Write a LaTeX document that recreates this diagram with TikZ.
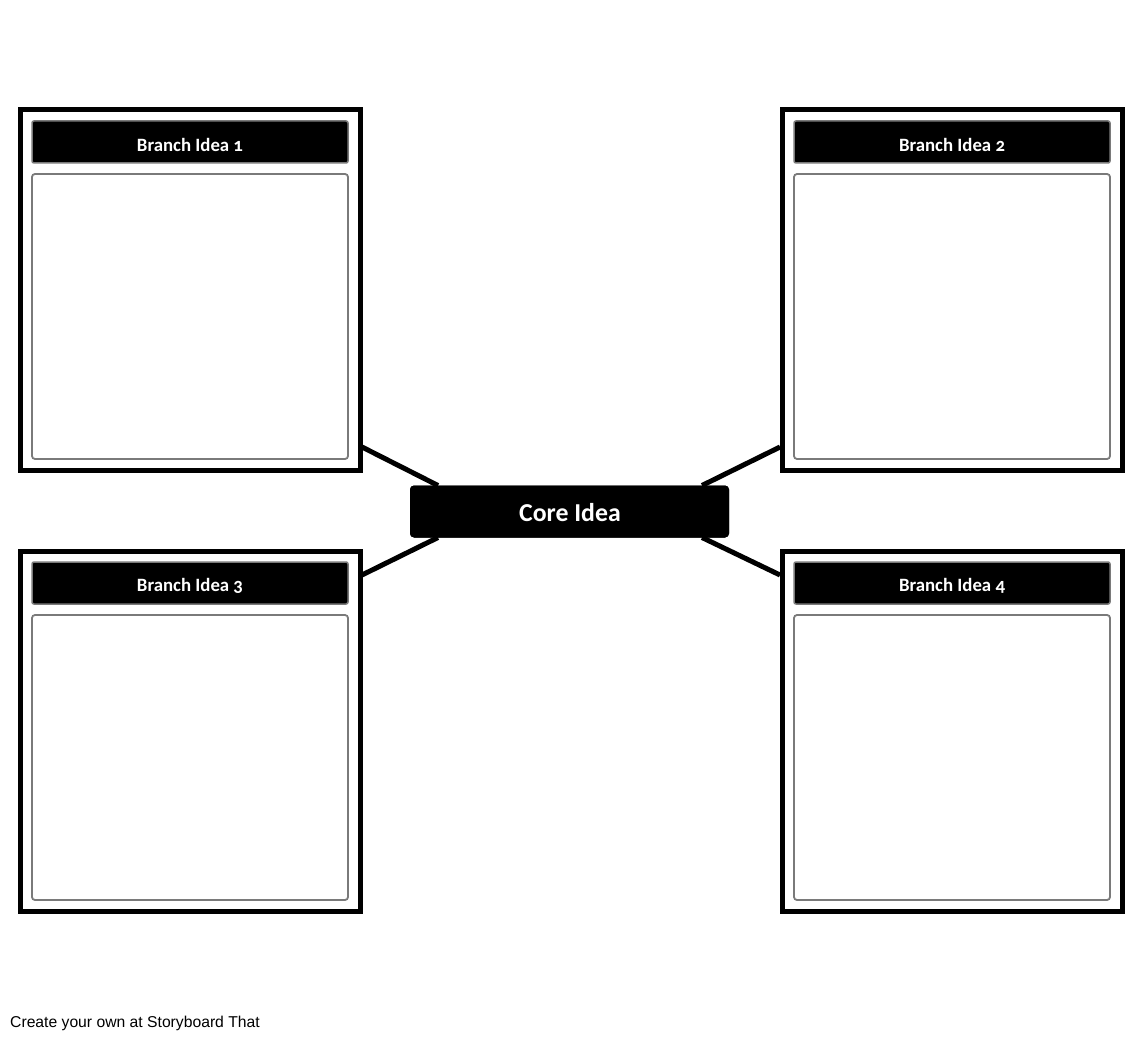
\documentclass[tikz,border=0pt]{standalone}
\usepackage{fontspec}
\usetikzlibrary{calc}
\newfontfamily\headfont[Numbers=OldStyle]{Carlito}
\newfontfamily\footfont{Liberation Sans}
\definecolor{framegray}{HTML}{7A7A7A}
\tikzset{
  branchbox/.style={draw=black,line width=5pt,fill=white,minimum width=340pt,minimum height=360pt,inner sep=0pt,outer sep=0pt},
  headbox/.style={draw=framegray,fill=black,line width=1.5pt,rounded corners=2pt,minimum width=316pt,minimum height=42pt,inner sep=0pt,outer sep=0pt,text=white,font=\headfont\bfseries\fontsize{18.8}{20}\selectfont},
  textbox/.style={draw=framegray,fill=white,line width=1.8pt,rounded corners=3pt,minimum width=316pt,minimum height=285pt,inner sep=0pt,outer sep=0pt},
  corebox/.style={fill=black,rounded corners=4pt,minimum width=319pt,minimum height=52pt,inner sep=0pt,outer sep=0pt,text=white,font=\headfont\bfseries\fontsize{25.8}{28}\selectfont},
  link/.style={line width=5pt,black}
}
\begin{document}
\begin{tikzpicture}[x=1pt,y=-1pt]
\useasboundingbox (0,0) rectangle (1143,1040);
% connectors (behind)
\coordinate (p1) at (362,447);
\coordinate (p2) at (780,447);
\coordinate (p3) at (362,575);
\coordinate (p4) at (780,575);
\node[corebox] (core) at (569.5,511.5) {};
\draw[link] (p1) -- ($(core.north west)+(28,0)$);
\draw[link] (p2) -- ($(core.north east)+(-27,0)$);
\draw[link] (p3) -- ($(core.south west)+(28,0)$);
\draw[link] (p4) -- ($(core.south east)+(-27,0)$);
\node[corebox] at (core) {};
\node[text=white,font=\headfont\bfseries\fontsize{25.8}{28}\selectfont,inner sep=0pt] (coretext) at (570,513) {Core Idea};
% branch boxes
\node[branchbox] (b1) at (190,290) {};
\node[branchbox] (b2) at (952,290) {};
\node[branchbox] (b3) at (190,731) {};
\node[branchbox] (b4) at (952,731) {};
\node[headbox] (h1) at (190,142) {};
\node[headbox] (h2) at (952,142) {};
\node[headbox] (h3) at (190,583) {};
\node[headbox] (h4) at (952,583) {};
\node[text=white,font=\headfont\bfseries\fontsize{18.8}{20}\selectfont,inner sep=0pt] at (190,144.5) {Branch Idea 1};
\node[text=white,font=\headfont\bfseries\fontsize{18.8}{20}\selectfont,inner sep=0pt] at (952,144.5) {Branch Idea 2};
\node[text=white,font=\headfont\bfseries\fontsize{18.8}{20}\selectfont,inner sep=0pt] at (190,585.5) {Branch Idea 3};
\node[text=white,font=\headfont\bfseries\fontsize{18.8}{20}\selectfont,inner sep=0pt] at (952,585.5) {Branch Idea 4};
\node[textbox] (t1) at (190,316.5) {};
\node[textbox] (t2) at (952,316.5) {};
\node[textbox] (t3) at (190,757.5) {};
\node[textbox] (t4) at (952,757.5) {};
% footer
\node[anchor=base west,inner sep=0pt,font=\footfont\fontsize{15.7}{17}\selectfont,text=black] (foot) at (10,1027) {Create your own at Storyboard That};
\end{tikzpicture}
\end{document}
